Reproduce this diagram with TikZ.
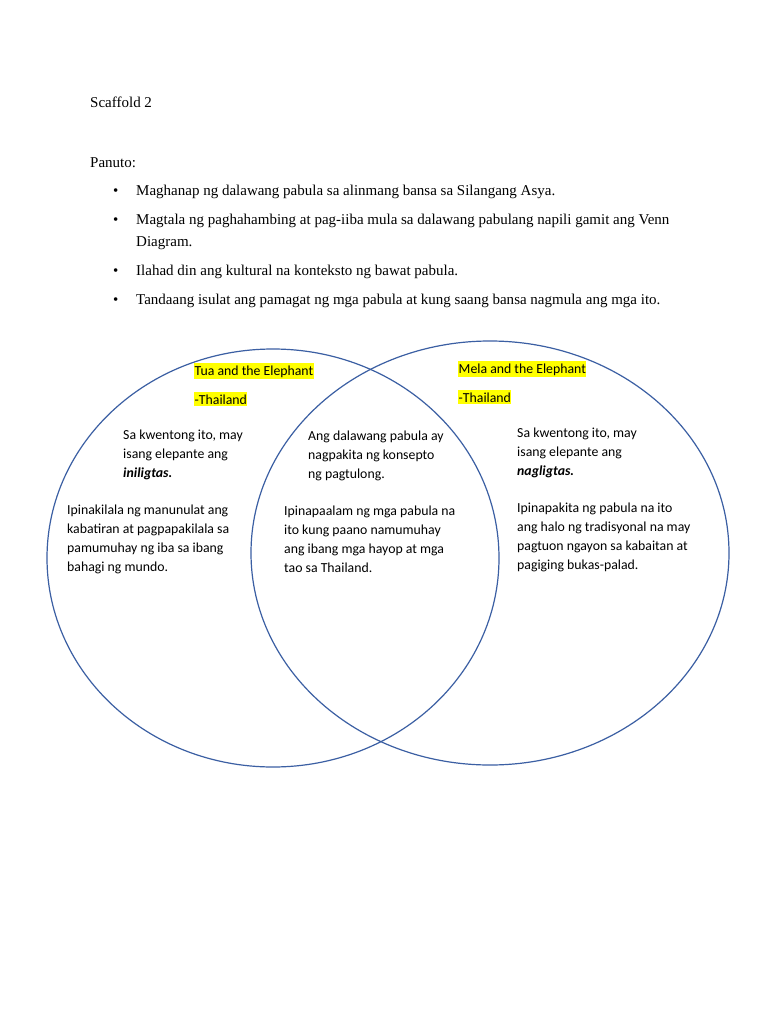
\documentclass[tikz,border=0pt]{standalone}
\usepackage{fontspec}
\setmainfont{Liberation Serif}
\newfontfamily\calfont{Carlito}
\definecolor{ringblue}{HTML}{3B5FA3}
\definecolor{hl}{HTML}{FFFF00}
\begin{document}
\begin{tikzpicture}[x=1pt,y=-1pt,
  tnr/.style={anchor=base west,inner sep=0,font=\fontsize{15}{18}\selectfont},
  bul/.style={anchor=base west,inner sep=0,font=\fontsize{15}{18}\selectfont},
  cbody/.style={anchor=north west,inner sep=0,align=left,font=\calfont\fontsize{13.8}{19}\selectfont},
  hlbox/.style={anchor=base west,fill=hl,inner xsep=0.5pt,inner ysep=2pt,font=\calfont\fontsize{13.8}{16}\selectfont},
  ring/.style={draw=ringblue,line width=1.2pt}]
\useasboundingbox (0,0) rectangle (768,1024);
\fill[white] (0,0) rectangle (768,1024);
\node[tnr] (title) at (90,108) {Scaffold 2};
\node[tnr] (panuto) at (90,168) {Panuto:};
\node[bul] (b1) at (113,196) {•};
\node[tnr] (t1) at (136,196) {Maghanap ng dalawang pabula sa alinmang bansa sa Silangang Asya.};
\node[bul] (b2) at (113,225) {•};
\node[tnr] (t2) at (136,225) {Magtala ng paghahambing at pag-iiba mula sa dalawang pabulang napili gamit ang Venn};
\node[tnr] (t2b) at (136,246) {Diagram.};
\node[bul] (b3) at (113,275) {•};
\node[tnr] (t3) at (136,275) {Ilahad din ang kultural na konteksto ng bawat pabula.};
\node[bul] (b4) at (113,304) {•};
\node[tnr] (t4) at (136,304) {Tandaang isulat ang pamagat ng mga pabula at kung saang bansa nagmula ang mga ito.};
\draw[ring] (273,558) ellipse [x radius=226,y radius=209];
\draw[ring] (490,553) ellipse [x radius=239,y radius=212];
\node[hlbox] (tt) at (194,375) {Tua and the Elephant};
\node[hlbox] (tc) at (194,404) {-Thailand};
\node[hlbox] (mt) at (458,373) {Mela and the Elephant};
\node[hlbox] (mc) at (458,402) {-Thailand};
\node[cbody] (l1) at (123,430) {Sa kwentong ito, may\\isang elepante ang\\\textbf{\textit{iniligtas.}}};
\node[cbody] (l2) at (67,504.5) {Ipinakilala ng manunulat ang\\kabatiran at pagpapakilala sa\\pamumuhay ng iba sa ibang\\bahagi ng mundo.};
\node[cbody] (m1) at (308,431) {Ang dalawang pabula ay\\nagpakita ng konsepto\\ng pagtulong.};
\node[cbody] (m2) at (284,505.5) {Ipinapaalam ng mga pabula na\\ito kung paano namumuhay\\ang ibang mga hayop at mga\\tao sa Thailand.};
\node[cbody] (r1) at (517,428) {Sa kwentong ito, may\\isang elepante ang\\\textbf{\textit{nagligtas.}}};
\node[cbody] (r2) at (517,502.5) {Ipinapakita ng pabula na ito\\ang halo ng tradisyonal na may\\pagtuon ngayon sa kabaitan at\\pagiging bukas-palad.};
\end{tikzpicture}
\end{document}
